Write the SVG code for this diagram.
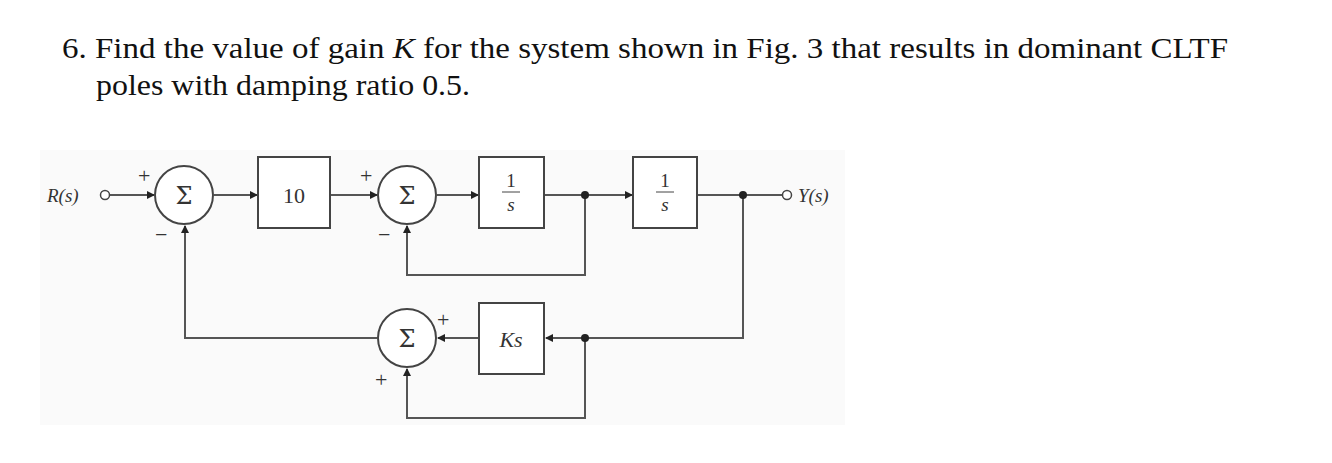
<svg xmlns="http://www.w3.org/2000/svg" width="1332" height="463" viewBox="0 0 1332 463">
<style>
.t{font-family:"Liberation Serif",serif;font-size:30px;fill:#111}
.d{font-family:"Liberation Serif",serif;fill:#333}
.s{font-family:"DejaVu Serif","Liberation Serif",serif;fill:#333;font-size:24px}
.b{fill:#fff;stroke:#444;stroke-width:2}
.w{fill:none;stroke:#555;stroke-width:2}
</style>
<defs><marker id="a" markerWidth="8" markerHeight="8" refX="7" refY="4" orient="auto" markerUnits="userSpaceOnUse"><path d="M0,0L8,4L0,8z" fill="#222"/></marker></defs>
<rect width="1332" height="463" fill="#fff"/>
<rect x="40" y="150" width="805" height="275" fill="#fafafa"/>
<text class="t" x="62" y="58" textLength="1166" lengthAdjust="spacingAndGlyphs">6. Find the value of gain <tspan font-style="italic">K</tspan> for the system shown in Fig. 3 that results in dominant CLTF</text>
<text class="t" x="96" y="95" textLength="374" lengthAdjust="spacingAndGlyphs">poles with damping ratio 0.5.</text>
<g id="connectors" class="w">
<path d="M109,195H154" marker-end="url(#a)"/>
<path d="M214,195H257" marker-end="url(#a)"/>
<path d="M331,195H377" marker-end="url(#a)"/>
<path d="M437,195H478" marker-end="url(#a)"/>
<path d="M545,195H632" marker-end="url(#a)"/>
<path d="M698,195H783"/>
<path d="M585,195V275H407V226" marker-end="url(#a)"/>
<path d="M743,195V338H546" marker-end="url(#a)"/>
<path d="M478,338H438" marker-end="url(#a)"/>
<path d="M585,338V418H407V369" marker-end="url(#a)"/>
<path d="M377,338H185V226" marker-end="url(#a)"/>
</g>
<g fill="#222"><circle cx="585" cy="195" r="4"/><circle cx="743" cy="195" r="4"/><circle cx="585" cy="338" r="4"/></g>
<g id="R"><circle cx="105" cy="195" r="4.5" fill="#fff" stroke="#444" stroke-width="1.5"/><text class="d" x="47" y="202" font-size="19" font-style="italic">R(s)</text></g>
<g id="Y"><circle cx="787" cy="195" r="4.5" fill="#fff" stroke="#444" stroke-width="1.5"/><text class="d" x="798" y="202" font-size="19" font-style="italic">Y(s)</text></g>
<g id="sum1"><circle class="b" cx="184" cy="195" r="29"/><text class="s" x="184" y="204" text-anchor="middle">Σ</text><text class="d" x="138" y="183" font-size="22">+</text><text class="d" x="155" y="242" font-size="22">−</text></g>
<g id="gain10"><rect class="b" x="258" y="157" width="72" height="71"/><text class="d" x="294" y="203" font-size="22" text-anchor="middle">10</text></g>
<g id="sum2"><circle class="b" cx="407" cy="195" r="29"/><text class="s" x="407" y="204" text-anchor="middle">Σ</text><text class="d" x="360" y="183" font-size="22">+</text><text class="d" x="378" y="242" font-size="22">−</text></g>
<g id="int1"><rect class="b" x="479" y="157" width="65" height="71"/><text class="d" x="511" y="187" font-size="19" text-anchor="middle">1</text><path d="M502,192H520" stroke="#444"/><text class="d" x="511" y="211" font-size="19" font-style="italic" text-anchor="middle">s</text></g>
<g id="int2"><rect class="b" x="633" y="157" width="64" height="71"/><text class="d" x="665" y="187" font-size="19" text-anchor="middle">1</text><path d="M656,192H674" stroke="#444"/><text class="d" x="665" y="211" font-size="19" font-style="italic" text-anchor="middle">s</text></g>
<g id="sum3"><circle class="b" cx="407" cy="338" r="29"/><text class="s" x="407" y="347" text-anchor="middle">Σ</text><text class="d" x="437" y="327" font-size="22">+</text><text class="d" x="375" y="387" font-size="22">+</text></g>
<g id="Ks"><rect class="b" x="479" y="303" width="65" height="71"/><text class="d" x="511" y="347" font-size="22" font-style="italic" text-anchor="middle">Ks</text></g>
</svg>
